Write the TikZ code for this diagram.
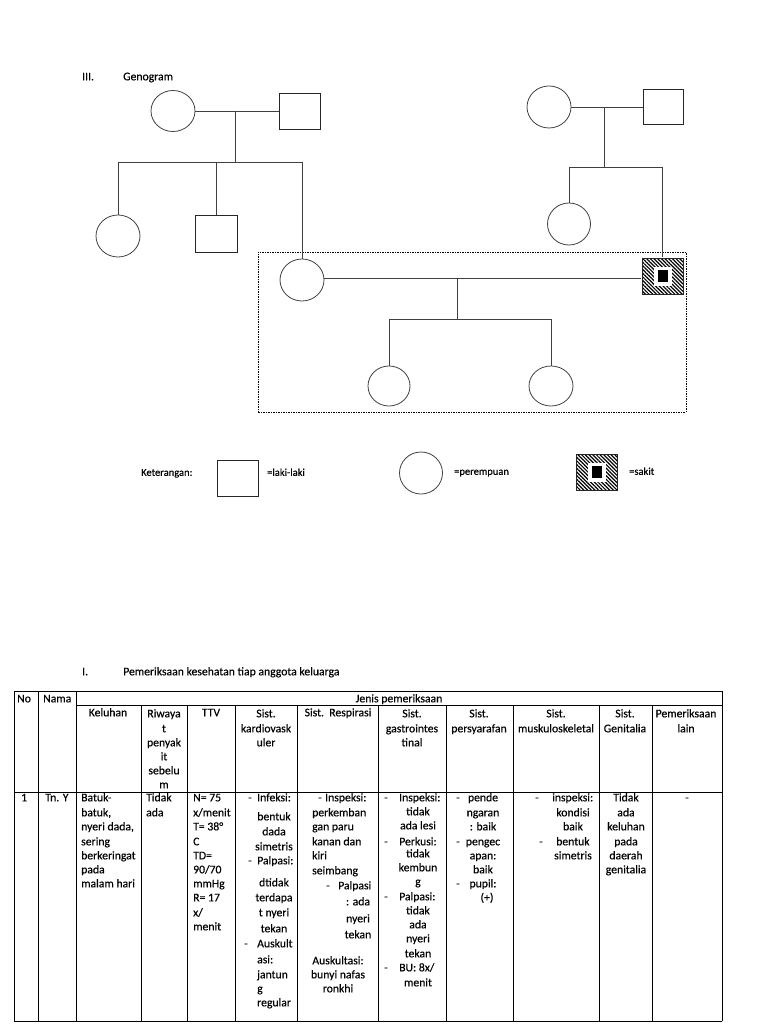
\documentclass[tikz,border=0pt]{standalone}
\usepackage{fontspec}
\setmainfont{Carlito}[FakeBold=0.35]
\usetikzlibrary{shapes.geometric,patterns.meta}
\newcommand\tabfont{\fontsize{11.7}{14}\selectfont}
\newcommand\legfont{\fontsize{10.5}{12}\selectfont}
\begin{document}
\begin{tikzpicture}[x=1pt,y=-1pt,
  fem/.style={ellipse, draw=black!75, line width=0.8pt, inner sep=0, minimum width=44pt, minimum height=42pt},
  mal/.style={rectangle, draw=black!85, line width=0.9pt, inner sep=0, minimum width=41pt, minimum height=36pt},
  sick/.style={rectangle, draw=black!85, line width=0.9pt, inner sep=0, minimum width=41pt, minimum height=36pt,
    pattern={Lines[angle=-45,distance=2.6pt,line width=1.2pt]},
    path picture={
      \fill[white] ([shift={(-9pt,-9.5pt)}]path picture bounding box.center) rectangle ([shift={(9pt,9.5pt)}]path picture bounding box.center);
      \fill[black] ([shift={(-5pt,-6pt)}]path picture bounding box.center) rectangle ([shift={(5pt,6pt)}]path picture bounding box.center);
    }},
  rel/.style={draw=black!75, line width=0.9pt},
  famdash/.style={draw=black, line width=0.6pt, dash pattern=on 2pt off 1.2pt on 0.6pt off 1.2pt, inner sep=0},
  tl/.style={anchor=base west, yshift=-4.3pt, inner sep=0, font=\tabfont},
  tc/.style={anchor=base, yshift=-4.3pt, inner sep=0, font=\tabfont},
  ll/.style={anchor=base west, yshift=-3.8pt, inner sep=0, font=\legfont},
  grid/.style={draw=black, line width=1pt}]
\useasboundingbox (0,0) rectangle (768,1024);

% ---------- Genogram ----------
\node[tl] (h3) at (82,76) {III.};
\node[tl] (h3t) at (123,76) {Genogram};

% left grandparents
\node[fem, minimum height=41pt] (gm1) at (173,111) {};
\node[mal] (gf1) at (299.5,111) {};
\draw[rel] (gm1) -- (gf1);
\coordinate (j1) at (235,111);
\coordinate (s1) at (235,162);
\coordinate (b1l) at (118,162);
\coordinate (b1r) at (302,162);
\draw[rel] (j1) -- (s1);
\draw[rel] (b1l) -- (b1r);
\node[fem] (c1) at (118,236) {};
\node[mal, minimum width=42pt, minimum height=37pt] (c2) at (216,233.5) {};
\draw[rel] (b1l) -- (c1.north);
\draw[rel] (c2.north |- s1) -- (c2.north);

% right grandparents
\node[fem] (gm2) at (549,107) {};
\node[mal, minimum width=40pt, minimum height=35pt] (gf2) at (663,107) {};
\draw[rel] (gm2) -- (gf2);
\coordinate (j2) at (604,107);
\coordinate (s2) at (604,167);
\coordinate (b2l) at (569,167);
\coordinate (b2r) at (662.5,167);
\draw[rel] (j2) -- (s2);
\draw[rel] (b2l) -- (b2r);
\node[fem, minimum width=43pt] (c3) at (569,224) {};
\draw[rel] (b2l) -- (c3.north);

% family box
\node[famdash, minimum width=428pt, minimum height=160pt] (fam) at (472,332) {};

% parents
\node[fem] (mother) at (302,280) {};
\node[sick] (father) at (662.5,276) {};
\draw[rel] (b1r) -- (mother.north);
\draw[rel] (b2r) -- (father.north);
\coordinate (j3) at (457,278);
\draw[rel] (mother.east |- j3) -- (father.west |- j3);
\coordinate (s3) at (457,319);
\coordinate (b3l) at (389,319);
\coordinate (b3r) at (551,319);
\draw[rel] (j3) -- (s3);
\draw[rel] (b3l) -- (b3r);
\node[fem, minimum width=42pt, minimum height=40pt] (k1) at (389,386) {};
\node[fem, minimum height=40pt] (k2) at (551,386) {};
\draw[rel] (b3l) -- (k1.north);
\draw[rel] (b3r) -- (k2.north);

% legend
\node[ll] (ket) at (141,472) {Keterangan:};
\node[mal] (lm) at (237.5,478) {};
\node[ll] (lml) at (267,472) {=laki-laki};
\node[fem, minimum width=43pt] (lf) at (421,473) {};
\node[ll] (lfl) at (454,471) {=perempuan};
\node[sick] (ls) at (596.5,472) {};
\node[ll] (lsl) at (629,471) {=sakit};

% ---------- Table ----------
\node[tl] (h1) at (82,671) {I.};
\node[tl] (h1t) at (123,671) {Pemeriksaan kesehatan tiap anggota keluarga};

\draw[grid] (14,691) -- (722,691);
\draw[grid] (76,705) -- (722,705);
\draw[grid] (14,792) -- (722,792);
\draw[grid] (14,1021) -- (722,1021);
\foreach \xx in {14,38,76,722} \draw[grid] (\xx,691) -- (\xx,1021);
\foreach \xx in {141,187,235,297,378,446,513,599,652} \draw[grid] (\xx,705) -- (\xx,1021);

% header
\node[tl] (hno) at (17,698) {No};
\node[tl] (hnama) at (43,698) {Nama};
\node[tc] (hjenis) at (399,698) {Jenis pemeriksaan};
\node[tc] (hkel) at (108,712) {Keluhan};
\foreach \yy/\lbl in {713/{Riwaya},728/{t},742/{penyak},756/{it},770/{sebelu},784/{m}}
  \node[tc] (hriw-\yy) at (164,\yy) {\lbl};
\node[tc] (httv) at (211,712) {TTV};
\foreach \yy/\lbl in {713/{Sist.},728/{kardiovask},742/{uler}}
  \node[tc] (hkar-\yy) at (266,\yy) {\lbl};
\node[tc] (hres) at (338,712) {Sist.\ \ Respirasi};
\foreach \yy/\lbl in {713/{Sist.},728/{gastrointes},742/{tinal}}
  \node[tc] (hgas-\yy) at (412,\yy) {\lbl};
\foreach \yy/\lbl in {713/{Sist.},728/{persyarafan}}
  \node[tc] (hper-\yy) at (479,\yy) {\lbl};
\foreach \yy/\lbl in {713/{Sist.},728/{muskuloskeletal}}
  \node[tc] (hmus-\yy) at (556,\yy) {\lbl};
\foreach \yy/\lbl in {713/{Sist.},728/{Genitalia}}
  \node[tc] (hgen-\yy) at (625,\yy) {\lbl};
\foreach \yy/\lbl in {713/{Pemeriksaan},728/{lain}}
  \node[tc] (hlain-\yy) at (686,\yy) {\lbl};

% body
\node[tl] (bno) at (21,797) {1};
\node[tl] (bnama) at (45,797) {Tn. Y};
\foreach \yy/\lbl in {797/{Batuk-},812/{batuk,},826/{nyeri dada,},841/{sering},855/{berkeringat},869/{pada},883/{malam hari}}
  \node[tl] (bkel-\yy) at (81,\yy) {\lbl};
\foreach \yy/\lbl in {797/{Tidak},812/{ada}}
  \node[tl] (briw-\yy) at (146,\yy) {\lbl};
\foreach \yy/\lbl in {797/{N= 75},812/{x/menit},826/{T= 38°},841/{C},855/{TD=},869/{90/70},883/{mmHg},897/{R= 17},912/{x/},926/{menit}}
  \node[tl] (bttv-\yy) at (193,\yy) {\lbl};

% kardiovaskuler
\foreach \yy in {797,860} \node[tl] (bkard-\yy) at (248,\yy) {-};
\node[tl] (bkard-d3) at (244,943) {-};
\foreach \yy/\lbl in {797/{Infeksi:},860/{Palpasi:},943/{Auskult},959/{asi:},974/{jantun},988/{g},1002/{regular}}
  \node[tl] (bkarl-\yy) at (257,\yy) {\lbl};
\foreach \yy/\lbl in {816/{bentuk},831/{dada},846/{simetris},882/{dtidak},897/{terdapa},912/{t nyeri},928/{tekan}}
  \node[tc] (bkarc-\yy) at (274,\yy) {\lbl};

% respirasi
\node[tl] (bres-d1) at (318,797) {-};
\node[tl] (bres-i) at (325,797) {Inspeksi:};
\foreach \yy/\lbl in {812/{perkemban},826/{gan paru},841/{kanan dan},855/{kiri},870/{seimbang}}
  \node[tl] (bresl-\yy) at (312,\yy) {\lbl};
\node[tl] (bres-d2) at (326,885) {-};
\node[tl] (bres-p) at (338,885) {Palpasi};
\foreach \yy/\lbl in {901/{: ada},918/{nyeri},934/{tekan}}
  \node[tc] (bresc-\yy) at (358,\yy) {\lbl};
\foreach \yy/\lbl in {960/{Auskultasi:},974/{bunyi nafas},988/{ronkhi}}
  \node[tc] (bresa-\yy) at (338,\yy) {\lbl};

% gastrointestinal
\foreach \yy in {797,841,896,967} \node[tl] (bgasd-\yy) at (384,\yy) {-};
\foreach \yy/\lbl in {797/{Inspeksi:},841/{Perkusi:},896/{Palpasi:},967/{BU: 8x/}}
  \node[tl] (bgasl-\yy) at (399,\yy) {\lbl};
\foreach \yy/\lbl in {811/{tidak},825/{ada lesi},853/{tidak},867/{kembun},881/{g},910/{tidak},924/{ada},938/{nyeri},953/{tekan},982/{menit}}
  \node[tc] (bgasc-\yy) at (418,\yy) {\lbl};

% persyarafan
\foreach \yy in {797,841,883} \node[tl] (bperd-\yy) at (456,\yy) {-};
\foreach \yy/\lbl in {797/{pende},812/{ngaran},826/{: baik},841/{pengec},855/{apan:},869/{baik},883/{pupil:}}
  \node[tc] (bperc-\yy) at (483,\yy) {\lbl};
\node[tc] (bper-plus) at (487,897) {(+)};

% muskuloskeletal
\node[tl] (bmusd1) at (535,797) {-};
\node[tl] (bmusi) at (552,797) {inspeksi:};
\node[tc] (bmusk) at (573,812) {kondisi};
\node[tc] (bmusb) at (573,826) {baik};
\node[tl] (bmusd2) at (539,841) {-};
\node[tl] (bmusbt) at (556,841) {bentuk};
\node[tc] (bmuss) at (573,855) {simetris};

% genitalia
\foreach \yy/\lbl in {797/{Tidak},812/{ada},826/{keluhan},841/{pada},855/{daerah},869/{genitalia}}
  \node[tc] (bgen-\yy) at (626,\yy) {\lbl};

% pemeriksaan lain
\node[tc] (blain) at (687,797) {-};
\end{tikzpicture}
\end{document}
